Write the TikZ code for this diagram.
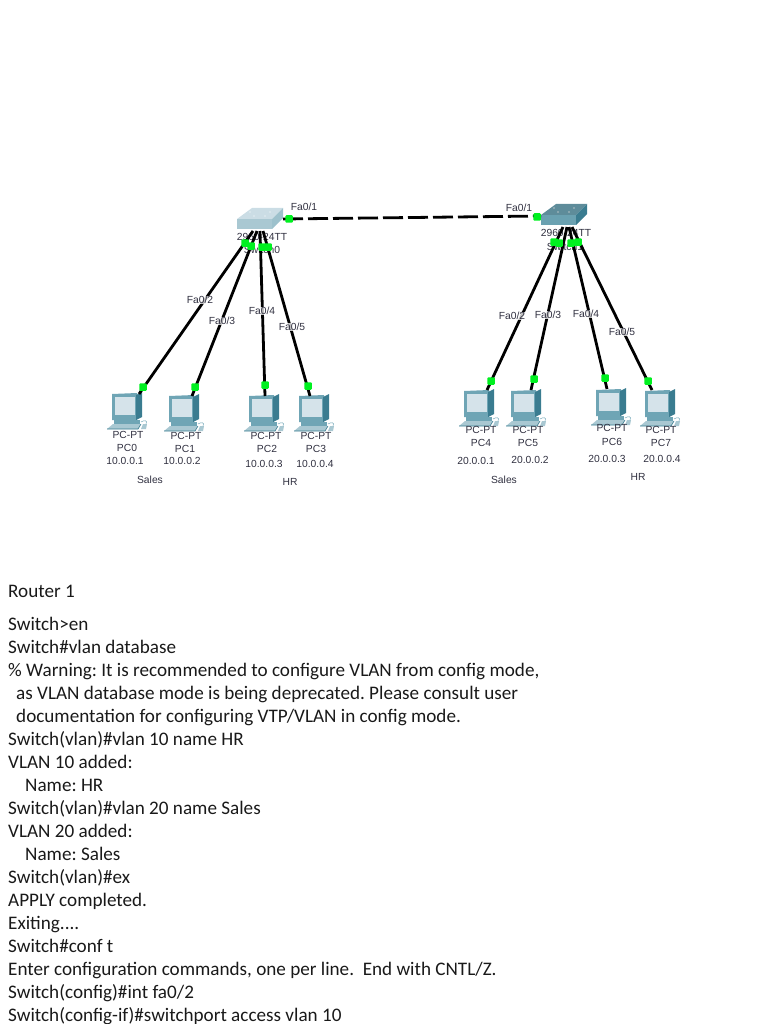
\documentclass[tikz,border=0pt]{standalone}
\usepackage{fontspec}
\setmainfont{Carlito}
\newfontfamily\labelfont{Liberation Sans}
\usetikzlibrary{calc}
\definecolor{pcbody}{HTML}{6FA5B5}
\definecolor{pcside}{HTML}{3A7C90}
\definecolor{pcscreen}{HTML}{D5E3EA}
\definecolor{pcbase}{HTML}{A9C8D2}
\definecolor{lampgreen}{HTML}{00F020}
\definecolor{labelgrey}{HTML}{303040}
\tikzset{
	cable/.style={line width=2.8pt,black},
	trunk/.style={cable,dash pattern=on 20pt off 5pt},
	port/.style={fill=lampgreen,minimum size=7.5pt,inner sep=0pt,rounded corners=1pt},
	tag/.style={font=\labelfont\fontsize{10.3}{11}\selectfont,text=labelgrey,inner sep=0.5pt},
	fatag/.style={tag,fill=white,fill opacity=0.75,text opacity=1},
	bodytext/.style={font=\fontsize{19.15}{23}\selectfont\frenchspacing,align=left,anchor=north west,inner sep=0pt,text=black!90}
}
\newcommand{\makepc}[2]{
	\begin{scope}[shift={(#1,#2)}]
	\fill[pcbody] (0,1) -- (25,0) -- (25,27) -- (0,27) -- cycle;
	\fill[pcside] (24,2) -- (30,-1) -- (30,24) -- (24,27) -- cycle;
	\fill[pcscreen] (2.5,4) rectangle (23,22);
	\fill[pcbody] (2,27) rectangle (28,31);
	\fill[pcbase] (1,31) -- (29,31) -- (26,36) -- (-5,36) -- cycle;
	\draw[pcside,line width=0.6pt] (-5,36) -- (26,36) -- (29,31);
	\fill[pcbase] (31,31) -- (35,31) -- (34,36) -- (29,36) -- cycle;
	\draw[pcbody,line width=0.5pt] (29,29) .. controls (32,27) and (36,27) .. (34,31);
	\end{scope}
}
\newcommand{\makeswitch}[5]{
	\begin{scope}[shift={(#1,#2)}]
	\fill[#3] (0,10) -- (15,-1) -- (46,-1) -- (35,10) -- cycle;
	\fill[#4] (0,10) -- (35,10) -- (35,20) -- (0,20) -- cycle;
	\fill[#5] (35,10) -- (46,-1) -- (46,9) -- (35,20) -- cycle;
	\fill[white!70!#3] (13,3) circle (0.8) (33,3) circle (0.8) (17,7) circle (0.8) (28,7) circle (0.8);
	\end{scope}
}

\begin{document}
\begin{tikzpicture}[x=1pt,y=-1pt]
	\useasboundingbox (0,0) rectangle (768,1024);

	% switches
	\makeswitch{237}{209}{pcscreen!90!pcbody}{pcbase}{pcbase!80!pcbody}
	\makeswitch{541}{205}{pcbody!85!black}{pcbody!90!pcside}{pcside}
	\node[tag] (sw0model) at (262,237) {2960-24TT};
	\node[tag] (sw0name) at (262,250) {Switch0};
	\node[tag] (sw1model) at (566,233) {2960-24TT};
	\node[tag] (sw1name) at (565,247) {Switch1};

	% computers
	\makepc{112}{393}
	\makepc{169}{395}
	\makepc{249}{395}
	\makepc{299}{395}
	\makepc{464}{390}
	\makepc{511}{390}
	\makepc{596}{389}
	\makepc{645}{390}

	\coordinate (sw0a) at (253,231);
	\coordinate (sw0b) at (257,231);
	\coordinate (sw0c) at (260,231);
	\coordinate (sw0d) at (263,231);
	\coordinate (sw0e) at (283,219);
	\coordinate (sw1a) at (563,227);
	\coordinate (sw1b) at (567,227);
	\coordinate (sw1c) at (569,227);
	\coordinate (sw1d) at (572,227);
	\coordinate (sw1e) at (541,216);
	\coordinate (pc0) at (139,394);
	\coordinate (pc1) at (192,396);
	\coordinate (pc2) at (265,396);
	\coordinate (pc3) at (310,396);
	\coordinate (pc4) at (487,390);
	\coordinate (pc5) at (531,390);
	\coordinate (pc6) at (607,389);
	\coordinate (pc7) at (652,390);

	% cables
	\draw[cable] (sw0a) -- (pc0);
	\draw[cable] (sw0b) -- (pc1);
	\draw[cable] (sw0c) -- (pc2);
	\draw[cable] (sw0d) -- (pc3);
	\draw[cable] (sw1a) -- (pc4);
	\draw[cable] (sw1b) -- (pc5);
	\draw[cable] (sw1c) -- (pc6);
	\draw[cable] (sw1d) -- (pc7);
	\draw[trunk] (sw0e) -- (sw1e);

	% ports
	\node[port] (p0a) at (289,219) {};
	\node[port] (p0b) at (245,243) {};
	\node[port] (p0c) at (251,246) {};
	\node[port] (p0d) at (262,247) {};
	\node[port] (p0e) at (268,247) {};
	\node[port] (p1a) at (537,217) {};
	\node[port] (p1b) at (554,242) {};
	\node[port] (p1c) at (559,243) {};
	\node[port] (p1d) at (571,243) {};
	\node[port] (p1e) at (578,242) {};
	\node[port] (q0) at (143,387) {};
	\node[port] (q1) at (195,387) {};
	\node[port] (q2) at (265,385) {};
	\node[port] (q3) at (308,386) {};
	\node[port] (q4) at (491,381) {};
	\node[port] (q5) at (534,379) {};
	\node[port] (q6) at (605,378) {};
	\node[port] (q7) at (648,381) {};

	% interface labels
	\node[tag] (fa01l) at (304,207) {Fa0/1};
	\node[fatag] (fa02l) at (200,300) {Fa0/2};
	\node[fatag] (fa03l) at (222,321) {Fa0/3};
	\node[fatag] (fa04l) at (262,311) {Fa0/4};
	\node[fatag] (fa05l) at (292,327) {Fa0/5};
	\node[tag] (fa01r) at (519,208) {Fa0/1};
	\node[fatag] (fa02r) at (512,316) {Fa0/2};
	\node[fatag] (fa03r) at (548,315) {Fa0/3};
	\node[fatag] (fa04r) at (586,314) {Fa0/4};
	\node[fatag] (fa05r) at (622,332) {Fa0/5};

	% computer labels
	\node[tag] (pt0) at (128,435) {PC-PT};
	\node[tag] (name0) at (127,448) {PC0};
	\node[tag] (ip0) at (125,461) {10.0.0.1};
	\node[tag] (pt1) at (186,436) {PC-PT};
	\node[tag] (name1) at (185,449) {PC1};
	\node[tag] (ip1) at (182,461) {10.0.0.2};
	\node[tag] (pt2) at (266,436) {PC-PT};
	\node[tag] (name2) at (267,449) {PC2};
	\node[tag] (ip2) at (264,464) {10.0.0.3};
	\node[tag] (pt3) at (316,436) {PC-PT};
	\node[tag] (name3) at (316,449) {PC3};
	\node[tag] (ip3) at (315,464) {10.0.0.4};
	\node[tag] (pt4) at (481,430) {PC-PT};
	\node[tag] (name4) at (481,443) {PC4};
	\node[tag] (ip4) at (476,461) {20.0.0.1};
	\node[tag] (pt5) at (528,430) {PC-PT};
	\node[tag] (name5) at (528,443) {PC5};
	\node[tag] (ip5) at (530,460) {20.0.0.2};
	\node[tag] (pt6) at (612,428) {PC-PT};
	\node[tag] (name6) at (612,442) {PC6};
	\node[tag] (ip6) at (607,459) {20.0.0.3};
	\node[tag] (pt7) at (661,430) {PC-PT};
	\node[tag] (name7) at (661,443) {PC7};
	\node[tag] (ip7) at (662,459) {20.0.0.4};
	\node[tag] (sales0) at (150,480) {Sales};
	\node[tag] (hr0) at (290,482) {HR};
	\node[tag] (sales1) at (504,480) {Sales};
	\node[tag] (hr1) at (638,477) {HR};

	% console text
	\node[bodytext] (router) at (8,585.3) {Router 1};
	\node[bodytext] (console) at (8,617.2) {Switch>en\\
		Switch\#vlan database\\
		\% Warning: It is recommended to configure VLAN from config mode,\\
		\hspace*{8pt}as VLAN database mode is being deprecated. Please consult user\\
		\hspace*{8pt}documentation for configuring VTP/VLAN in config mode.\\
		Switch(vlan)\#vlan 10 name HR\\
		VLAN 10 added:\\
		\hspace*{17pt}Name: HR\\
		Switch(vlan)\#vlan 20 name Sales\\
		VLAN 20 added:\\
		\hspace*{17pt}Name: Sales\\
		Switch(vlan)\#ex\\
		APPLY completed.\\
		Exiting....\\
		Switch\#conf t\\
		Enter configuration commands, one per line.\ \ End with CNTL/Z.\\
		Switch(config)\#int fa0/2\\
		Switch(config-if)\#switchport access vlan 10};
\end{tikzpicture}
\end{document}
